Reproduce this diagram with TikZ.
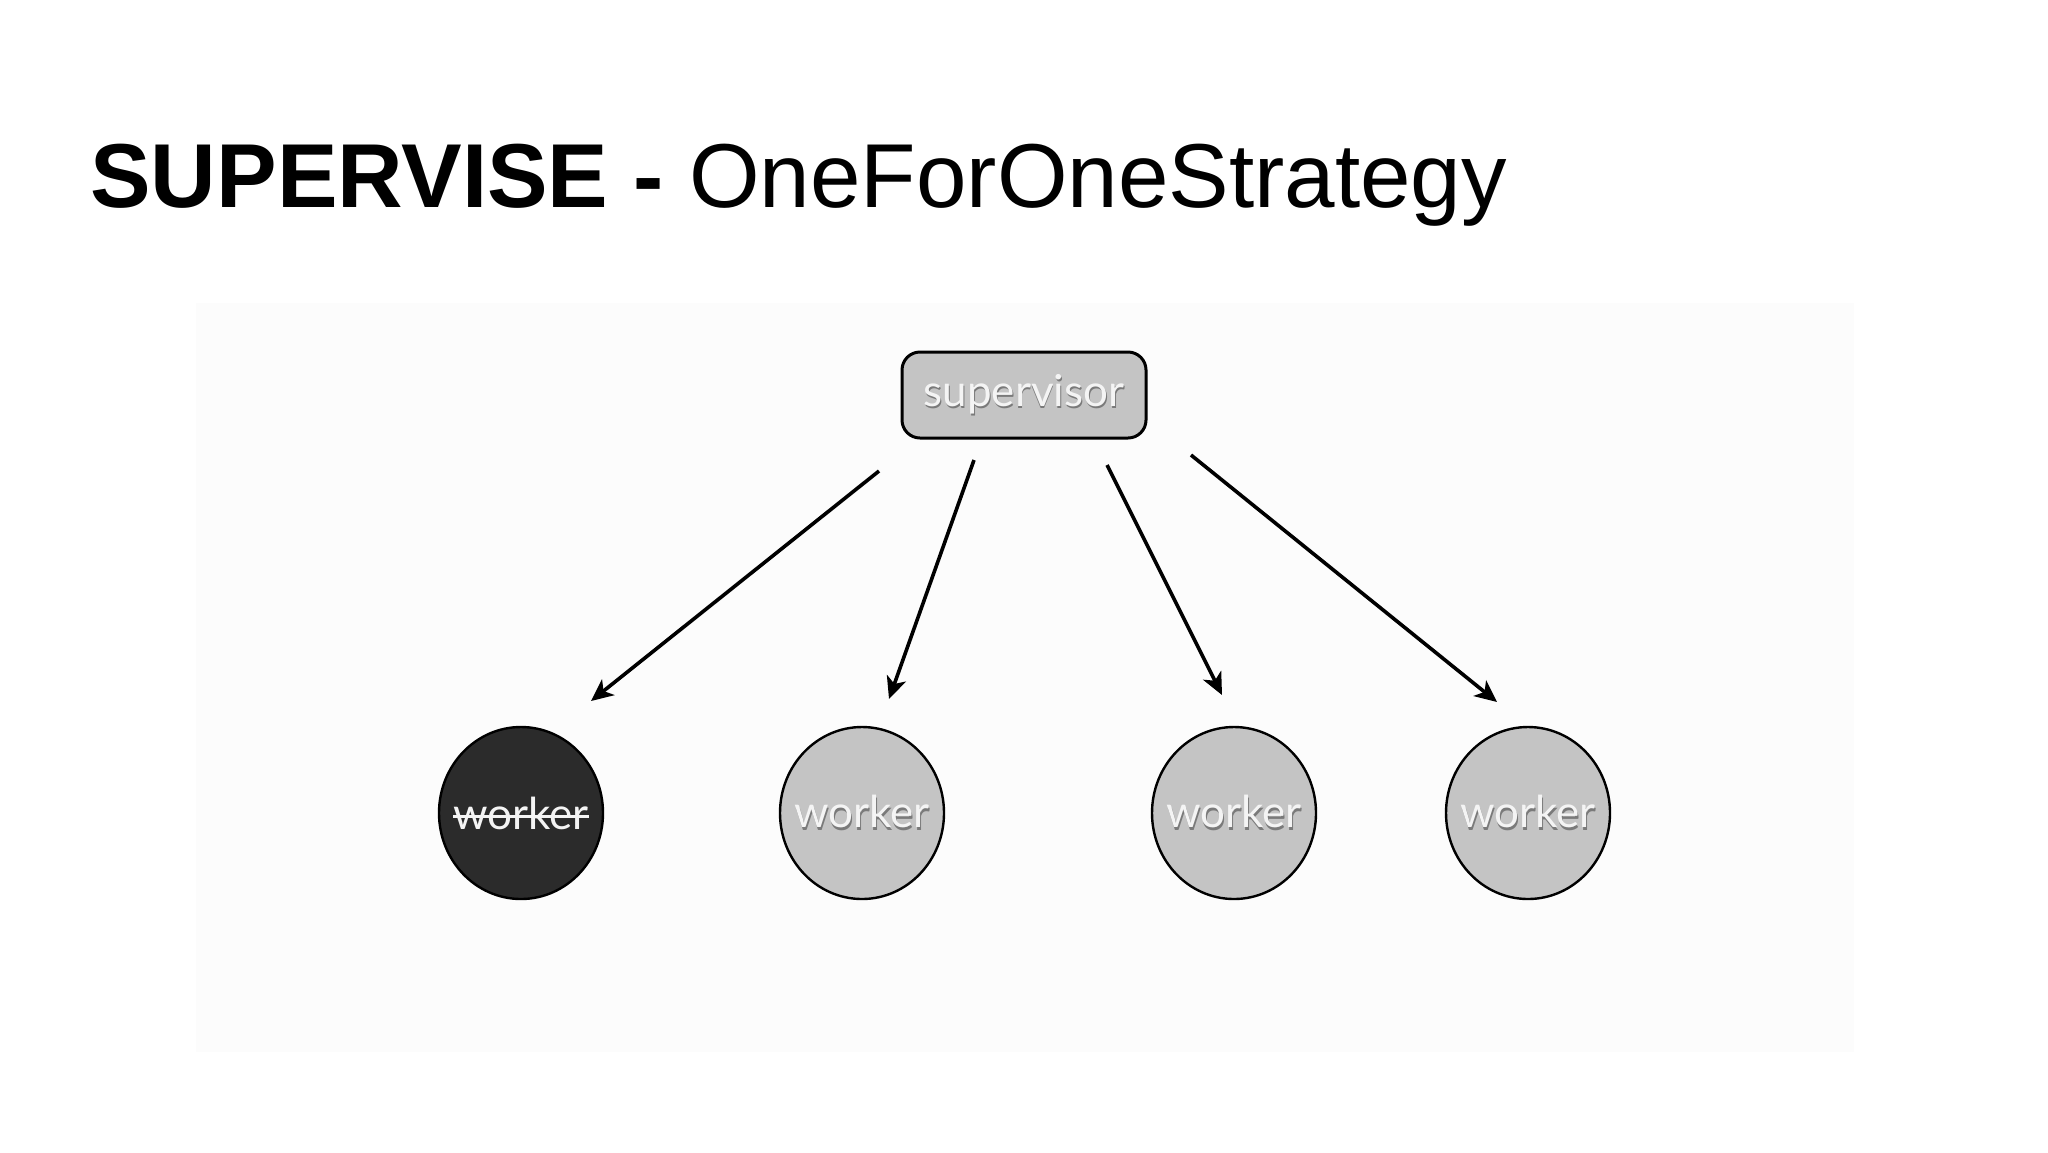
\documentclass[tikz,border=0pt]{standalone}
\usepackage{fontspec}
\setmainfont{Liberation Sans}
\newfontfamily\nodefont{Lato}
\usetikzlibrary{shapes.geometric,arrows.meta}
\definecolor{panelgray}{HTML}{FCFCFC}
\definecolor{boxgray}{HTML}{C4C4C4}
\definecolor{darkfill}{HTML}{2B2B2B}
\definecolor{labelwhite}{HTML}{F4F4F4}
\definecolor{shadowgray}{HTML}{7A7A7A}
\newsavebox\mystrikebox
\newcommand\embossed[1]{\makebox[0pt][c]{\rlap{\textcolor{shadowgray}{\raisebox{-1.1pt}{\hspace{0.4pt}#1}}}#1}}
\newcommand\struckout[1]{\sbox\mystrikebox{#1}\makebox[0pt][c]{\rlap{\usebox\mystrikebox}\rule[0.26em]{\wd\mystrikebox}{0.07em}}}
\tikzset{
  supbox/.style={draw=black, line width=1.5pt, fill=boxgray, rounded corners=9pt,
    minimum width=122pt, minimum height=43pt, inner sep=0pt,
    font=\nodefont\fontsize{22}{24}\selectfont, text=labelwhite},
  workerlight/.style={ellipse, draw=black, line width=1.2pt, fill=boxgray,
    minimum width=82pt, minimum height=86pt, inner sep=0pt,
    font=\nodefont\fontsize{22}{24}\selectfont, text=labelwhite},
  workerdark/.style={workerlight, fill=darkfill},
  arr/.style={line width=1.8pt, -{Stealth[length=11pt, width=10pt, inset=3pt]}},
  titletext/.style={anchor=base west, inner sep=0pt, font=\fontsize{45.4}{50}\selectfont}
}
\begin{document}
\begin{tikzpicture}[x=0.5pt, y=-0.5pt]
\useasboundingbox[fill=white] (0,0) rectangle (2048,1152);
\fill[panelgray] (196,303) rectangle (1854,1052);
\node[titletext] (title) at (90,207) {\textbf{SUPERVISE -} OneForOneStrategy};
\node[supbox] (sup) at (1024,395) {\embossed{supervisor}};
\node[workerdark] (w1) at (521,813) {\struckout{worker}};
\node[workerlight] (w2) at (862,813) {\embossed{worker}};
\node[workerlight] (w3) at (1234,813) {\embossed{worker}};
\node[workerlight] (w4) at (1528,813) {\embossed{worker}};
\coordinate (s1) at (879,471);
\coordinate (e1) at (591,701);
\coordinate (s2) at (974,460);
\coordinate (e2) at (889,699);
\coordinate (s3) at (1107,465);
\coordinate (e3) at (1222,695);
\coordinate (s4) at (1191,455);
\coordinate (e4) at (1497,702);
\draw[arr] (s1) -- (e1);
\draw[arr] (s2) -- (e2);
\draw[arr] (s3) -- (e3);
\draw[arr] (s4) -- (e4);
\end{tikzpicture}
\end{document}
